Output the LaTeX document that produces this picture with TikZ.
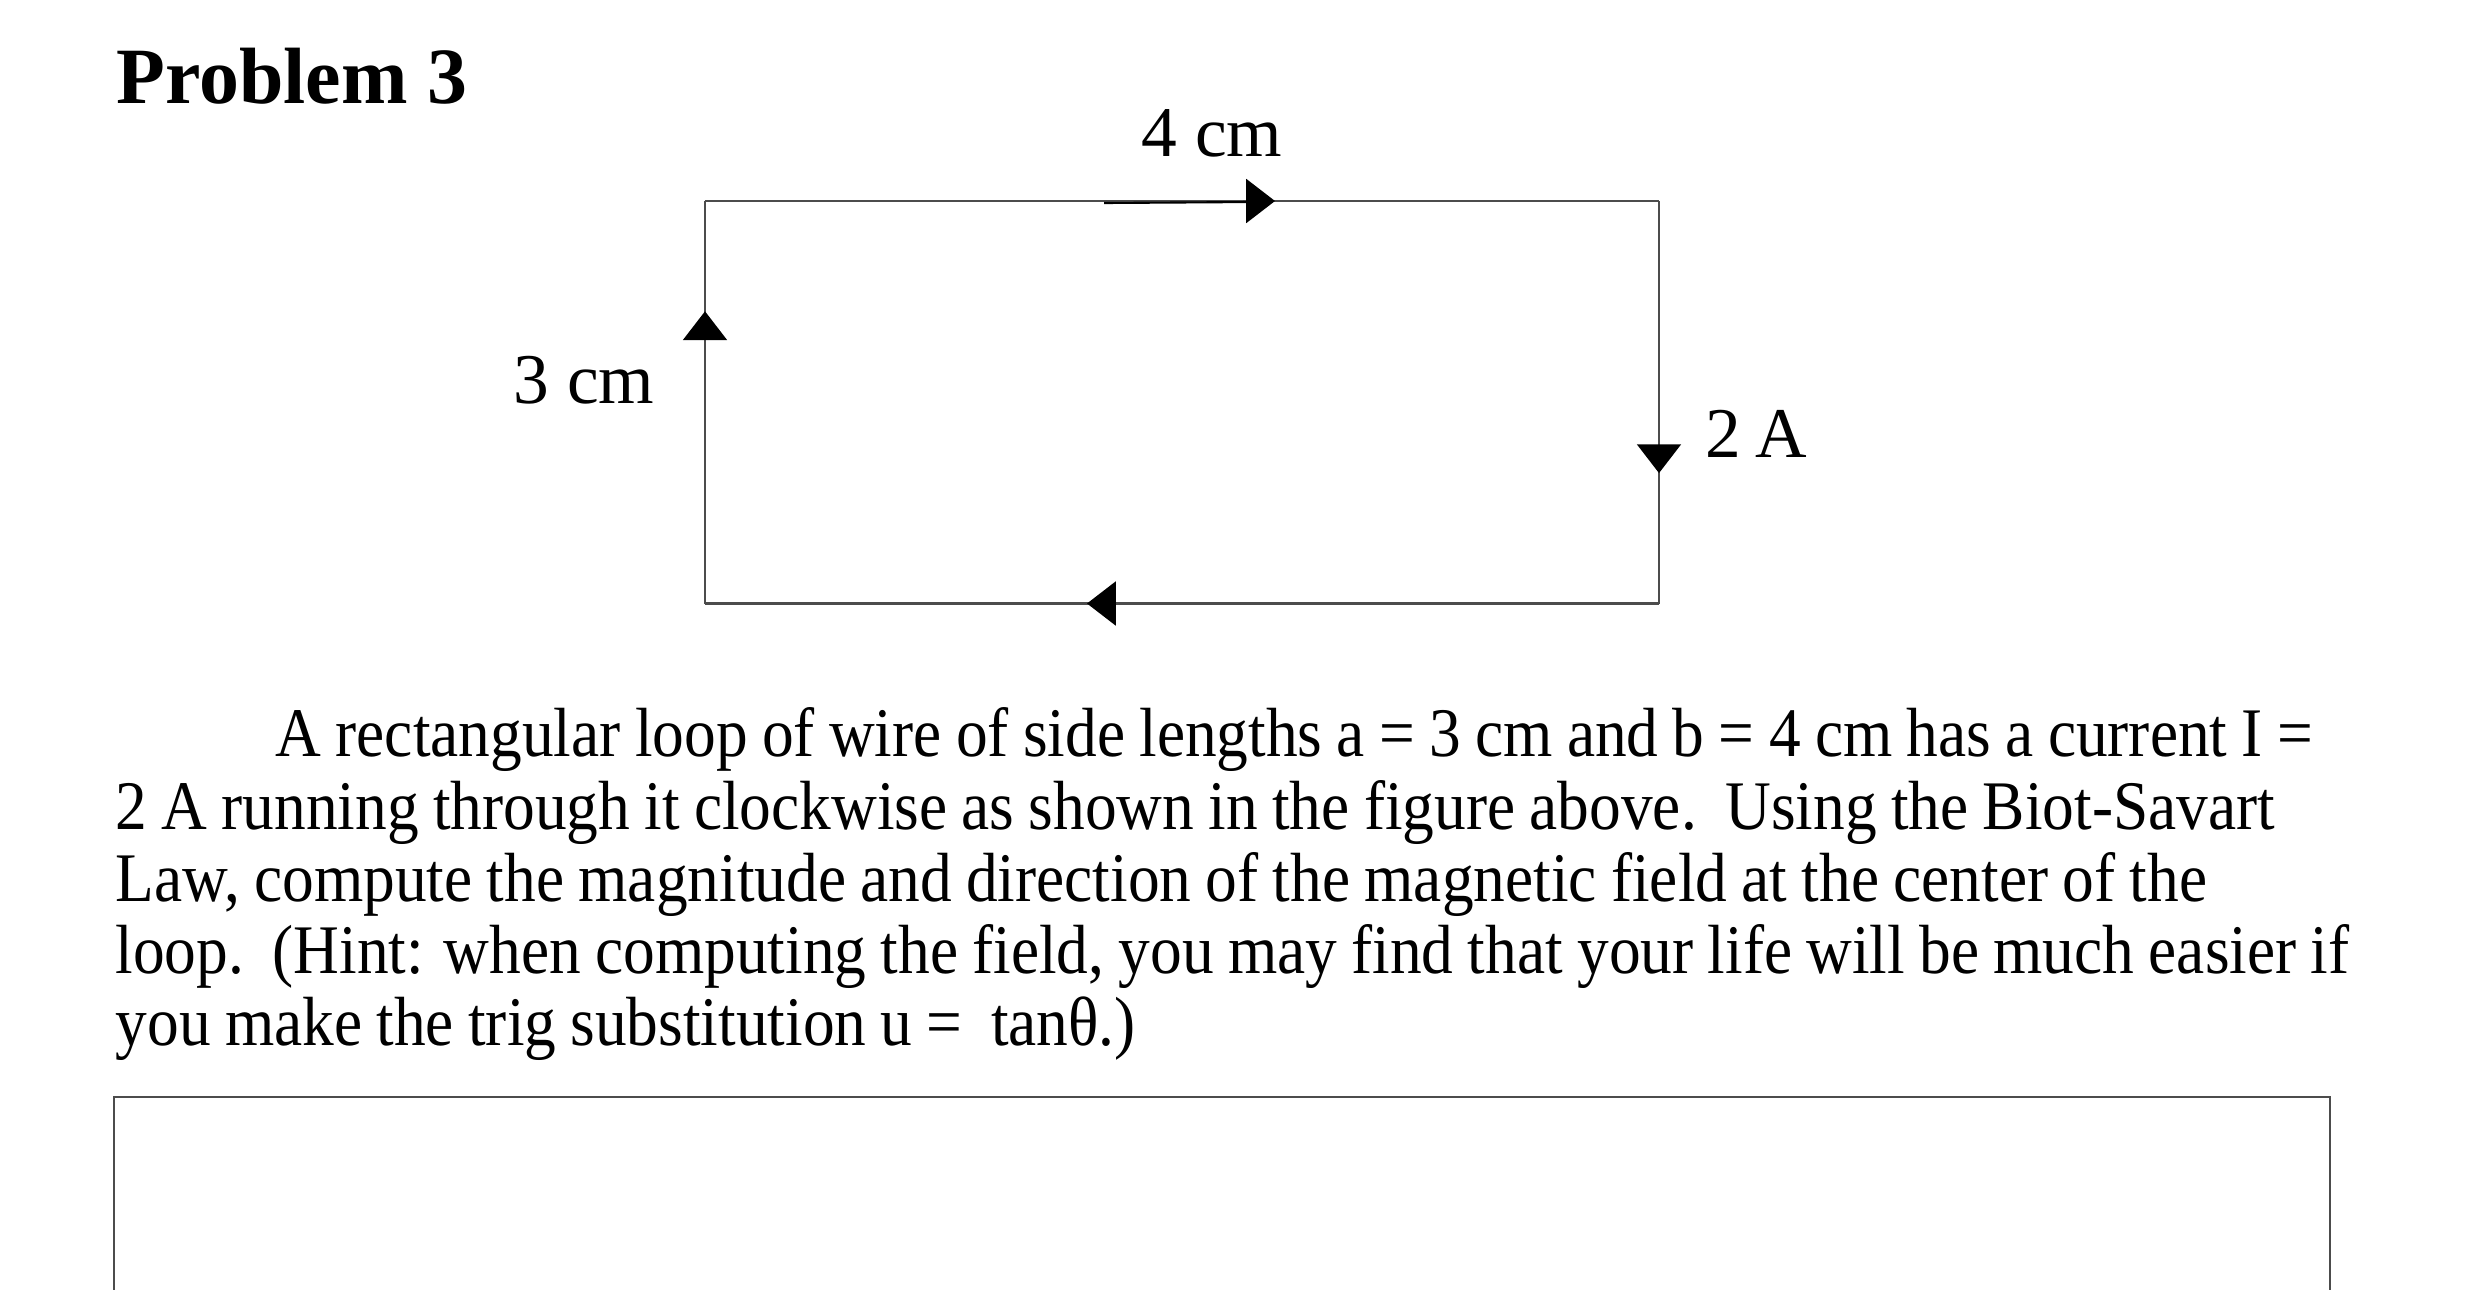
\documentclass[tikz,border=0pt]{standalone}
\usepackage{xcolor}
\usepackage{fontspec}
\setmainfont{Liberation Serif}
\newfontfamily\bodyfont[FakeStretch=0.91,WordSpace=0.904]{Liberation Serif}
\usetikzlibrary{arrows.meta,decorations.markings,positioning}

\tikzset{
  wire/.style={draw=black!70,line width=0.6pt},
  headat/.style={postaction={decorate,decoration={markings,
    mark=at position #1 with {\arrow{Triangle[length=8.2pt,width=12.5pt,color=black,fill=black]}}}}},
  txt/.style={anchor=base west,inner sep=0pt,font=\bodyfont\fontsize{19.8}{23}\selectfont},
  dim/.style={anchor=base west,inner sep=0pt,font=\fontsize{20.3}{24}\selectfont}
}

\begin{document}
\begin{tikzpicture}[x=0.01cm,y=-0.01cm]
  \useasboundingbox (0,0) rectangle (2480,1290);
  \fill [white] (0,0) rectangle (2480,1290);
  \node [anchor=base west,inner sep=0pt,font=\fontsize{22.7}{26}\selectfont\bfseries] (title) at (116,103) {Problem 3};
  % loop
  \coordinate (tl) at (705,201);
  \coordinate (tr) at (1659,201);
  \coordinate (br) at (1659,603.5);
  \coordinate (bl) at (705,603.5);
  \draw [wire,headat=0.5975] (tl) -- (tr);
  \draw [wire,headat=0.676] (tr) -- (br);
  \draw [wire,headat=0.5996] (br) -- (bl);
  \draw [wire,headat=0.726] (bl) -- (tl);
  \coordinate (stroka) at (1104,203);
  \coordinate (strokb) at (1250,202);
  \draw [black,line width=0.6pt] (stroka) -- (strokb);
  \node [dim] (labtop) at (1141,156) {4 cm};
  \node [dim] (lableft) at (513,403) {3 cm};
  \node [dim] (labright) at (1705,457) {2\hspace{0.2em}A};
  % text
  \node [txt] (lineone) at (275,756) {A rectangular loop of wire of side lengths a = 3 cm and b = 4 cm has a current I =};
  \node [txt] (linetwo) at (115,829) {2 A running through it clockwise as shown in the figure above.~~Using the Biot-Savart};
  \node [txt] (linethree) at (115,901.5) {Law, compute the magnitude and direction of the magnetic field at the center of the};
  \node [txt] (linefour) at (115,973) {loop.~~(Hint: when computing the field, you may find that your life will be much easier if};
  \node [txt] (linefive) at (115,1045) {you make the trig substitution u =~~tanθ.)};
  % answer box
  \coordinate (boxa) at (114,1310);
  \coordinate (boxb) at (114,1097);
  \coordinate (boxc) at (2330,1097);
  \coordinate (boxd) at (2330,1310);
  \draw [wire] (boxa) -- (boxb) -- (boxc) -- (boxd);
\end{tikzpicture}
\end{document}
